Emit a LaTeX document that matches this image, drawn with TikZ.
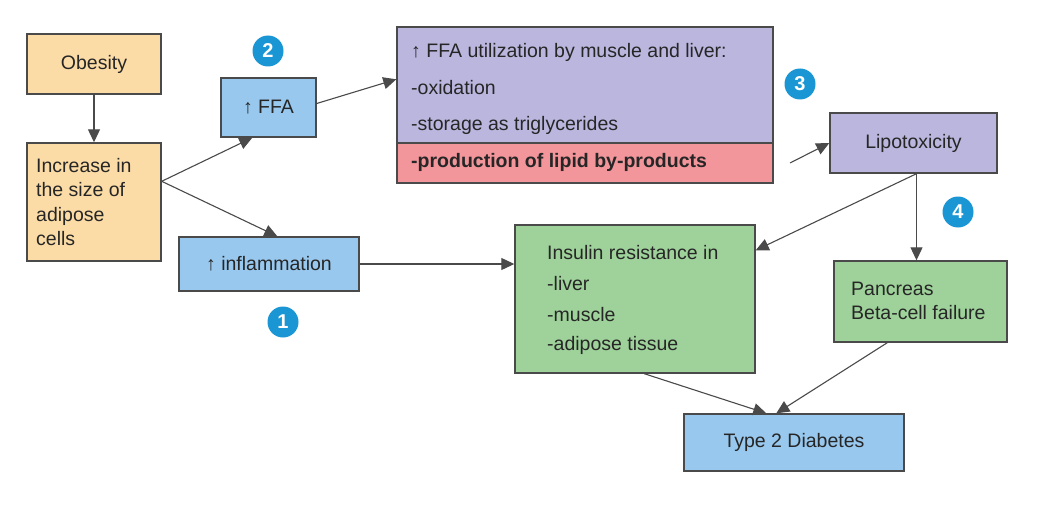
\documentclass[tikz,border=0pt]{standalone}
\usepackage{fontspec}
\setmainfont{Liberation Sans}
\usetikzlibrary{calc,arrows.meta}
\definecolor{cOrange}{HTML}{FCDCA6}
\definecolor{cBlue}{HTML}{98C8EE}
\definecolor{cPurple}{HTML}{BAB6DE}
\definecolor{cRed}{HTML}{F3969B}
\definecolor{cGreen}{HTML}{9ED29A}
\definecolor{cCircle}{HTML}{1A96D4}
\definecolor{cEdge}{HTML}{4A4A4A}
\definecolor{cText}{HTML}{262626}
\tikzset{
  box/.style={draw=cEdge, line width=1.4pt, inner sep=0pt, rectangle},
  lbl/.style={inner sep=0pt, text=cText, font=\fontsize{19.5}{24.5}\selectfont},
  conn/.style={draw=cEdge, line width=1.1pt, -{Triangle[length=13pt,width=12pt]}},
  badge/.style={circle, fill=cCircle, minimum size=31pt, inner sep=0pt, text=white, font=\fontsize{20}{20}\selectfont\bfseries},
}
\begin{document}
\begin{tikzpicture}[x=1pt,y=-1pt]
\useasboundingbox (0,0) rectangle (1051,524);
\fill[white] (0,0) rectangle (1051,524);

% boxes
\node[box, fill=cOrange, minimum width=134pt, minimum height=60pt] (obes) at (94,64) {};
\node[lbl] (tobes) at (obes.center) {Obesity};

\node[box, fill=cOrange, minimum width=134pt, minimum height=118pt] (incr) at (94,202) {};
\node[lbl, anchor=west, align=left] (tincr) at (36,202) {Increase in\\the size of\\adipose\\cells};

\node[box, fill=cBlue, minimum width=95pt, minimum height=59pt] (ffa) at (268.5,107.5) {};
\node[lbl] (tffa) at (ffa.center) {↑ FFA};

\node[box, fill=cBlue, minimum width=180pt, minimum height=54pt] (infl) at (269,264) {};
\node[lbl] (tinfl) at (infl.center) {↑ inflammation};

\node[box, fill=cPurple, minimum width=376pt, minimum height=116pt] (util) at (585,85) {};
\node[box, fill=cRed, minimum width=376pt, minimum height=40pt] (byp) at (585,163) {};
\node[lbl, anchor=west] (tu1) at (411,52) {↑ FFA utilization by muscle and liver:};
\node[lbl, anchor=west] (tu2) at (411,88) {-oxidation};
\node[lbl, anchor=west] (tu3) at (411,125) {-storage as triglycerides};
\node[lbl, anchor=west, font=\fontsize{19.5}{24.5}\selectfont\bfseries] (tu4) at (411,162) {-production of lipid by-products};

\node[box, fill=cPurple, minimum width=167pt, minimum height=60pt] (lipo) at (913.5,143) {};
\node[lbl] (tlipo) at (lipo.center) {Lipotoxicity};

\node[box, fill=cGreen, minimum width=240pt, minimum height=148pt] (ins) at (635,299) {};
\node[lbl, anchor=west] (ti1) at (547,253) {Insulin resistance in};
\node[lbl, anchor=west] (ti2) at (547,284) {-liver};
\node[lbl, anchor=west] (ti3) at (547,315) {-muscle};
\node[lbl, anchor=west] (ti4) at (547,345) {-adipose tissue};

\node[box, fill=cGreen, minimum width=173pt, minimum height=81pt] (panc) at (920.5,301.5) {};
\node[lbl, anchor=west, align=left] (tpanc) at (851,301) {Pancreas\\Beta-cell failure};

\node[box, fill=cBlue, minimum width=220pt, minimum height=57pt] (t2d) at (794,442.5) {};
\node[lbl] (tt2d) at (t2d.center) {Type 2 Diabetes};

% badges
\node[badge] (b2) at (268,51) {2};
\node[badge] (b1) at (283,322) {1};
\node[badge] (b3) at (800,84) {3};
\node[badge] (b4) at (958,212) {4};

% connectors
\draw[conn] (obes.south) -- (incr.north);
\coordinate (split) at ($(incr.north east)+(0,39)$);
\draw[conn] (split) -- ($(ffa.south west)+(32,0)$);
\draw[conn] (split) -- ($(infl.north west)+(99,0)$);
\draw[conn] ($(ffa.east)+(0,-4)$) -- ($(util.north west)+(0,53)$);
\coordinate (lstart) at (790,163);
\draw[conn] (lstart) -- (lipo.west);
\coordinate (lv) at ($(lipo.south)+(3,0)$);
\draw[conn] (lv) -- (lv |- panc.north);
\draw[conn] (lv) -- ($(ins.north east)+(0,26)$);
\draw[conn] (infl.east) -- (infl.east -| ins.west);
\draw[conn] ($(ins.south west)+(130,0)$) -- ($(t2d.north west)+(83,0)$);
\draw[conn] ($(panc.south west)+(54,0)$) -- ($(t2d.north west)+(93,0)$);
\end{tikzpicture}
\end{document}
